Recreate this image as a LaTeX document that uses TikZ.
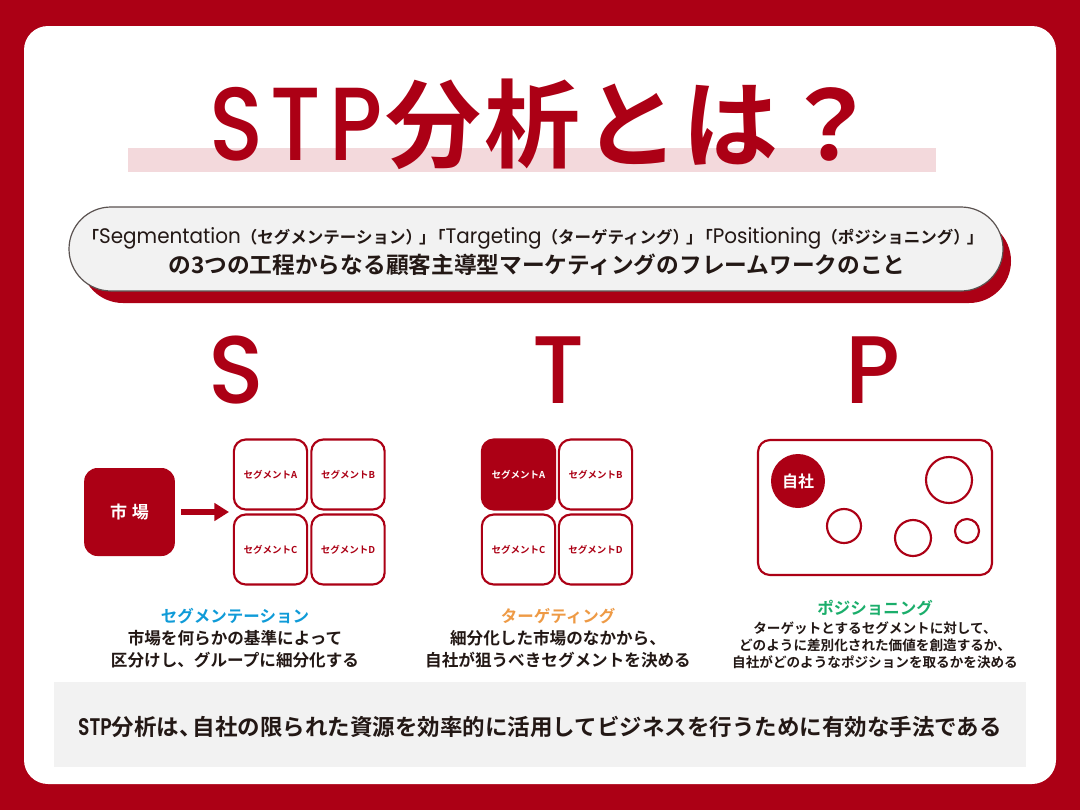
\documentclass[tikz,border=0pt]{standalone}
\usepackage{fontspec}
\usetikzlibrary{arrows.meta}
\setmainfont{Noto Sans CJK JP}[BoldFont={Noto Sans CJK JP Bold}]
\newfontfamily\popm{Poppins}[UprightFont={* Medium},BoldFont={* Medium},FakeStretch=0.96]
\newfontfamily\popn{Poppins}[UprightFont={* Medium},BoldFont={* Medium},FakeStretch=0.86]
\newfontfamily\pops{Poppins}[UprightFont={* SemiBold},BoldFont={* SemiBold},FakeStretch=0.78]
\newfontfamily\popr{Poppins}[BoldFont={Poppins},FakeStretch=0.95]
\definecolor{brand}{HTML}{AC0015}
\definecolor{band}{HTML}{F3D9DC}
\definecolor{panel}{HTML}{F2F2F2}
\definecolor{ink}{HTML}{231815}
\definecolor{segblue}{HTML}{0F9BD8}
\definecolor{tarorange}{HTML}{EE9A45}
\definecolor{posgreen}{HTML}{1BAE6B}
\newcommand{\fs}[1]{\fontsize{\dimexpr#1pt*3/4\relax}{\dimexpr#1pt*9/10\relax}\selectfont}
\newcommand{\ka}{\kern2.4pt}
\newcommand{\closeq}{\kern-2.25pt」\kern-4.75pt}
\tikzset{
  x=0.75pt,y=-0.75pt,
  txt/.style={inner sep=0pt,outer sep=0pt,text=ink,font=\bfseries,anchor=center},
  segbox/.style={draw=brand,line width=1.6pt,fill=white,rounded corners=9pt,minimum width=55pt,minimum height=52.5pt,inner sep=0pt,text=brand,font=\bfseries\fs{9.5}},
  segfill/.style={segbox,fill=brand,text=white},
  ring/.style={circle,draw=brand,line width=1.6pt,fill=white,inner sep=0pt},
}
\begin{document}
\begin{tikzpicture}
\useasboundingbox (0,0) rectangle (1080,810);
\fill[brand] (0,0) rectangle (1080,810);
\fill[white,rounded corners=18pt] (24,26) rectangle (1056,784);
\fill[band] (128,148) rectangle (936,172);
% title
\node[txt,text=brand,anchor=base west] (title) at (209,160) {{\popn\fs{104}S\kern6pt T\kern6pt P}\kern2pt{\fs{96}分\ka 析\ka と\ka は\ka ？}};
% pill
\fill[brand,rounded corners=31.5pt] (81,219) rectangle (1011,303);
\draw[fill=panel,draw=ink!75,line width=0.9pt,rounded corners=31.5pt] (69,207) rectangle (1003,291);
\node[txt] (line1) at (533,238.5) {\fs{16.5}「{\popr\fs{21}Segmentation}（セグメンテーション）\closeq「{\popr\fs{21}Targeting}（ターゲティング）\closeq「{\popr\fs{21}Positioning}（ポジショニング）\kern-2.25pt」};
\node[txt] (line2) at (537,265) {\fs{22.7}の3つの工程からなる顧客主導型マーケティングのフレームワークのこと};
% letters
\node[txt,text=brand,font=\popm\fs{96}] (S) at (236,370) {S};
\node[txt,text=brand,font=\popm\fs{96}] (T) at (558,370) {T};
\node[txt,text=brand,font=\popm\fs{96}] (P) at (873,370) {P};
% S panel
\node[draw=none,fill=brand,rounded corners=10pt,minimum width=68pt,minimum height=66pt,inner sep=0pt,text=white,font=\bfseries\fs{17}] (market) at (129.5,512) {市\kern3.5pt 場};
\node[segbox] (sA) at (270.5,474.5) {セグメントA};
\node[segbox] (sB) at (348,474.5) {セグメントB};
\node[segbox] (sC) at (270.5,549.5) {セグメントC};
\node[segbox] (sD) at (348,549.5) {セグメントD};
\coordinate (arrowend) at (229,512);
\draw[brand,line width=5pt,shorten <=4.5pt,-{Triangle[length=11pt,width=13pt]}] (market.east) -- (arrowend);
% T panel
\node[segfill] (tA) at (518.5,474.5) {セグメントA};
\node[segbox] (tB) at (595.5,474.5) {セグメントB};
\node[segbox] (tC) at (518.5,549.5) {セグメントC};
\node[segbox] (tD) at (595.5,549.5) {セグメントD};
% P panel
\draw[brand,line width=1.6pt,fill=white,rounded corners=9pt] (758,440) rectangle (992,575);
\node[circle,fill=brand,minimum size=40.5pt,inner sep=0pt,text=white,font=\bfseries\fs{16}] (self) at (798,481) {自社};
\node[ring,minimum size=34.5pt] (c1) at (949,480) {};
\node[ring,minimum size=25.5pt] (c2) at (844,526) {};
\node[ring,minimum size=27pt] (c3) at (913,538) {};
\node[ring,minimum size=18pt] (c4) at (967,531) {};
% captions
\node[txt,text=segblue,font=\bfseries\fs{16.5}] (h1) at (235,616) {セグメンテーション};
\node[txt,font=\bfseries\fs{16.6}] (h1a) at (235,638) {市場を何らかの基準によって};
\node[txt,font=\bfseries\fs{16.6}] (h1b) at (235,660) {区分けし、グループに細分化する};
\node[txt,text=tarorange,font=\bfseries\fs{16.5}] (h2) at (558,616) {ターゲティング};
\node[txt,font=\bfseries\fs{16.6}] (h2a) at (558,638) {細分化した市場のなかから、};
\node[txt,font=\bfseries\fs{16.6}] (h2b) at (558,660) {自社が狙うべきセグメントを決める};
\node[txt,text=posgreen,font=\bfseries\fs{16.5}] (h3) at (875,608) {ポジショニング};
\node[txt,font=\bfseries\fs{13.6}] (h3a) at (875,628) {ターゲットとするセグメントに対して、};
\node[txt,font=\bfseries\fs{13.6}] (h3b) at (875,645) {どのように差別化された価値を創造するか、};
\node[txt,font=\bfseries\fs{13.6}] (h3c) at (875,662) {自社がどのようなポジションを取るかを決める};
% bottom
\fill[panel] (54,682) rectangle (1026,767);
\node[txt,font=\bfseries\fs{22.5}] (bottom) at (540,727) {{\pops\fs{24}STP}分析は、\kern-6.75pt 自社の限られた資源を効率的に活用してビジネスを行うために有効な手法である};
\end{tikzpicture}
\end{document}
